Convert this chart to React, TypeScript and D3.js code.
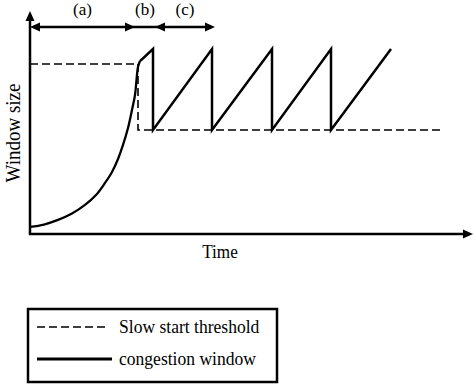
import React from 'react';
import * as d3 from 'd3';

// time units / window size units
const slowStart: [number, number][] = [
  [0, 3.2], [1.4, 4.3], [2.8, 6.4], [4.2, 9.3], [5.5, 13.2], [6.6, 17.7],
  [7.5, 23.2], [8.2, 28.2], [8.8, 34.1], [9.3, 40.5], [9.8, 48.2],
  [10.2, 56.4], [10.5, 63.2], [10.8, 75.9], [11.0, 78.6],
];
const avoidance: [number, number][] = [
  [11.0, 78.6], [12.3, 84.1], [12.3, 47.3], [18.2, 84.1], [18.2, 47.3],
  [24.2, 84.1], [24.2, 47.3], [30.1, 84.1], [30.1, 47.3], [36.1, 84.1],
];
const threshold: [number, number][] = [
  [0, 77.3], [10.8, 77.3], [10.8, 47.3], [41.3, 47.3],
];
const phaseBounds = [0, 10.5, 12.5, 18.5];
const phaseLabels = ['(a)', '(b)', '(c)'];
const legendItems = [
  { label: 'Slow start threshold', dashed: true },
  { label: 'congestion window', dashed: false },
];

const W = 474;
const H = 387;
const FONT = "'Liberation Serif', 'DejaVu Serif', serif";

const x = d3.scaleLinear().domain([0, 44]).range([30, 470]);
const y = d3.scaleLinear().domain([0, 100]).range([234, 14]);

const line = d3.line<[number, number]>().x((d) => x(d[0])).y((d) => y(d[1]));
const curve = d3
  .line<[number, number]>()
  .x((d) => x(d[0]))
  .y((d) => y(d[1]))
  .curve(d3.curveCatmullRom.alpha(0.5));

// filled triangle arrowhead with tip at (tx, ty) pointing in direction dir
const head = (tx: number, ty: number, dir: 'l' | 'r' | 'u', len = 10, hw = 4.5) => {
  if (dir === 'r') return `M${tx},${ty}L${tx - len},${ty - hw}L${tx - len},${ty + hw}Z`;
  if (dir === 'l') return `M${tx},${ty}L${tx + len},${ty - hw}L${tx + len},${ty + hw}Z`;
  return `M${tx},${ty}L${tx - hw},${ty + len}L${tx + hw},${ty + len}Z`;
};

const txt = { fontFamily: FONT, fontSize: 19.5 };

// the source figure's text is a little squeezed sideways
const Label = ({ x: tx, y: ty, sx = 0.88, size = 19.5, anchor = 'start', children }: any) => (
  <text
    transform={`translate(${tx},${ty}) scale(${sx},1)`}
    style={{ ...txt, fontSize: size }}
    textAnchor={anchor}
  >
    {children}
  </text>
);

const App = () => {
  const x0 = x(0);
  const y0 = y(0);
  const arrowY = 27;
  const px = phaseBounds.map((b) => x(b));

  return (
    <svg
      width={W}
      height={H}
      style={{ position: 'absolute', left: 0, top: 0, background: '#fff' }}
    >
      {/* axes */}
      <line x1={x0} y1={y0} x2={x0} y2={20} stroke="#000" strokeWidth={2.5} />
      <path d={head(x0, 11, 'u')} fill="#000" />
      <line x1={x0 - 1.2} y1={y0} x2={464} y2={y0} stroke="#000" strokeWidth={2.5} />
      <path d={head(473, y0, 'r')} fill="#000" />

      <Label x={x(19)} y={258} anchor="middle">Time</Label>
      <text
        transform={`translate(20,${133}) scale(1.15,1) rotate(-90)`}
        style={{ ...txt, fontSize: 19 }}
        textAnchor="middle"
      >
        Window size
      </text>

      {/* phase arrows */}
      <line x1={px[0] + 4} y1={arrowY} x2={px[3] - 4} y2={arrowY} stroke="#000" strokeWidth={2.5} />
      <path d={head(px[0], arrowY, 'l')} fill="#000" />
      <path d={head(px[1], arrowY, 'r')} fill="#000" />
      <path d={head(px[2], arrowY, 'l')} fill="#000" />
      <path d={head(px[3], arrowY, 'r')} fill="#000" />
      {phaseLabels.map((l, i) => (
        <Label key={l} x={(px[i] + px[i + 1]) / 2} y={14.5} anchor="middle" sx={1} size={17}>
          {l}
        </Label>
      ))}

      {/* threshold */}
      <path d={line(threshold) ?? ''} fill="none" stroke="#000" strokeWidth={1.6} strokeDasharray="8,4" />

      {/* congestion window */}
      <path d={curve(slowStart) ?? ''} fill="none" stroke="#000" strokeWidth={2.3} />
      <path
        d={line(avoidance) ?? ''}
        fill="none"
        stroke="#000"
        strokeWidth={2.5}
        strokeLinejoin="miter"
      />

      {/* legend */}
      <rect x={28} y={309} width={249} height={73} fill="none" stroke="#000" strokeWidth={2.5} />
      {legendItems.map((it, i) => {
        const ly = 327 + i * 32;
        return (
          <g key={it.label}>
            <line
              x1={37}
              x2={it.dashed ? 107 : 112}
              y1={ly}
              y2={ly}
              stroke="#000"
              strokeWidth={it.dashed ? 1.6 : 2.8}
              strokeDasharray={it.dashed ? '8,4' : undefined}
            />
            <Label x={119} y={ly + 6} sx={0.9}>
              {it.label}
            </Label>
          </g>
        );
      })}
    </svg>
  );
};

export default App;
